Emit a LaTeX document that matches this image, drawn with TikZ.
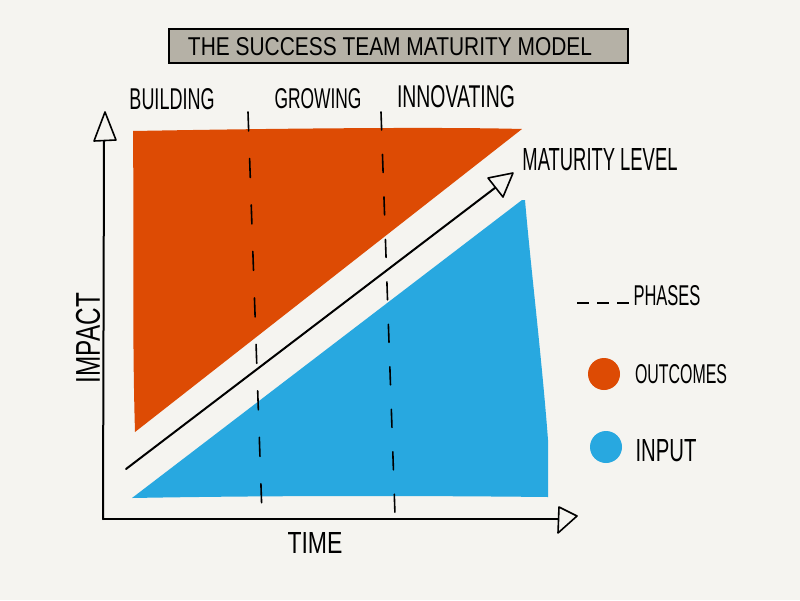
\documentclass[tikz,border=0pt]{standalone}
\usepackage{fontspec}
\setmainfont{Liberation Sans}
\newfontfamily\handfont{Liberation Sans}
\usepackage{graphicx}
\newcommand{\hw}[3]{\resizebox{#1pt}{#2pt}{\handfont #3}}
\definecolor{bgc}{RGB}{245,244,240}
\definecolor{titlefill}{RGB}{181,177,166}
\definecolor{outc}{RGB}{221,75,4}
\definecolor{inpc}{RGB}{40,168,224}
\tikzset{
  lbl/.style={inner sep=0pt, anchor=center, text=black},
  axisline/.style={line width=2pt, black, line cap=round, line join=round},
  openhead/.style={line width=1.6pt, black, line join=round, fill=bgc},
  phaseline/.style={line width=1.6pt, black, line cap=round},
  legdot/.style={circle, minimum size=32pt, inner sep=0pt}
}
\begin{document}
\begin{tikzpicture}[x=1pt,y=-1pt]
\fill[bgc] (0,0) rectangle (800,600);
\useasboundingbox (0,0) rectangle (800,600);

% title
\node[draw=black, line width=2pt, fill=titlefill, minimum width=459pt, minimum height=34pt, inner sep=0pt] (titlebox) at (398.5,46) {};
\node[lbl] (title) at (390,47) {\hw{404}{18}{THE SUCCESS TEAM MATURITY MODEL}};

% regions
\fill[outc] (133,131) .. controls (300,128) and (450,127) .. (522,129) -- (135,432) .. controls (132,330) and (134,230) .. cycle;
\fill[inpc] (522,200) -- (132,498) .. controls (300,495) and (450,496) .. (548,497) -- (548,440) .. controls (542,360) and (530,260) .. (525,200) -- cycle;

% phase lines
\coordinate (p1t) at (248,112);
\coordinate (p1b) at (262,515);
\coordinate (p2t) at (381,112);
\coordinate (p2b) at (395,515);
\draw[phaseline, dash pattern=on 19pt off 27.5pt] (p1t) -- (p1b);
\draw[phaseline, dash pattern=on 18pt off 24.5pt] (p2t) -- (p2b);

% axes
\coordinate (origin) at (103,519);
\coordinate (ybase) at (104,141);
\coordinate (ytip) at (105,112);
\coordinate (xbase) at (559,519);
\coordinate (xtip) at (577,516);
\draw[axisline] (origin) -- (ybase);
\draw[openhead] (94,141) -- (ytip) -- (116,140) -- cycle;
\draw[axisline] (origin) -- (xbase);
\draw[openhead] (559,507) -- (xtip) -- (558,533) -- cycle;

% maturity arrow
\coordinate (mstart) at (126,469);
\coordinate (mbase) at (495.5,187.5);
\coordinate (mtip) at (513,173);
\draw[axisline] (mstart) -- (mbase);
\draw[openhead] (488,178) -- (mtip) -- (503,197) -- cycle;

% phase labels
\node[lbl] (building) at (172,99) {\hw{85}{21}{BUILDING}};
\node[lbl] (growing) at (318,99) {\hw{87}{20}{GROWING}};
\node[lbl] (innovating) at (456,97) {\hw{118}{22}{INNOVATING}};
\node[lbl] (maturity) at (600,160) {\hw{155}{22}{MATURITY LEVEL}};

% axis labels
\node[lbl] (time) at (315,543) {\hw{55}{21}{TIME}};
\node[lbl, rotate=90] (impact) at (88,338) {\hw{90}{24}{IMPACT}};

% legend
\coordinate (legA) at (577,303);
\coordinate (legB) at (631,303);
\draw[line width=1.6pt, black, dash pattern=on 12pt off 8pt] (legA) -- (legB);
\node[lbl] (phases) at (667,296) {\hw{67}{20}{PHASES}};
\node[legdot, fill=outc] (odot) at (604,374) {};
\node[lbl] (outcomes) at (681,374) {\hw{92}{19}{OUTCOMES}};
\node[legdot, fill=inpc] (idot) at (606,447) {};
\node[lbl] (input) at (666,451) {\hw{61}{22}{INPUT}};
\end{tikzpicture}
\end{document}
